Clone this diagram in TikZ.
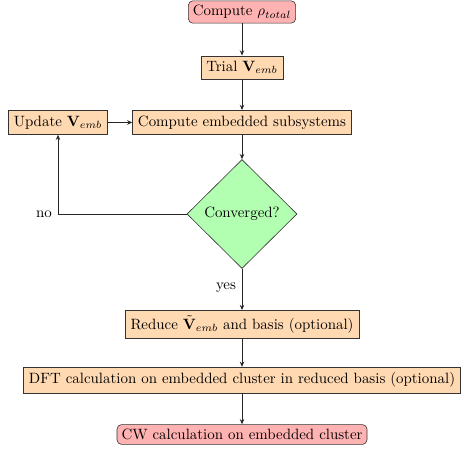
\documentclass[tikz,border=0pt]{standalone}
\usetikzlibrary{shapes.geometric,arrows.meta}
\begin{document}
\begin{tikzpicture}[x=0.67pt,y=-0.67pt,
  procbox/.style={draw=black!80,fill=orange!30,rectangle,inner sep=3.6pt},
  termbox/.style={draw=black!80,fill=red!30,rectangle,rounded corners=3pt,inner sep=3pt},
  decbox/.style={draw=black!80,fill=green!30,diamond,aspect=1,inner sep=0pt,minimum width=73.7pt,minimum height=73pt},
  flow/.style={draw=black!85,line width=0.6pt,-{Stealth[length=3.5pt,width=3pt]}},
  lbl/.style={inner sep=1pt}]
\useasboundingbox (0,0) rectangle (474,462);
\node[termbox] (top) at (242,12) {Compute $\rho_{total}$};
\node[procbox] (trial) at (242,67.5) {Trial $\mathbf{V}_{emb}$};
\node[procbox] (upd) at (58,122.5) {Update $\mathbf{V}_{emb}$};
\node[procbox] (comp) at (242,122.5) {Compute embedded subsystems};
\node[decbox] (conv) at (242,214) {Converged?};
\node[procbox] (red) at (242,324.5) {Reduce $\tilde{\mathbf{V}}_{emb}$ and basis (optional)};
\node[procbox] (dft) at (242,380) {DFT calculation on embedded cluster in reduced basis (optional)};
\node[termbox] (cw) at (242,434.5) {CW calculation on embedded cluster};
\coordinate (corner) at (58,214);
\draw[flow] (top) -- (trial);
\draw[flow] (trial) -- (comp);
\draw[flow] (upd) -- (comp);
\draw[flow] (comp) -- (conv);
\draw[flow] (conv.west) -- (corner) -- (upd.south);
\node[lbl] (no) at (44,214) {no};
\draw[flow] (conv.south) -- (red.north);
\node[lbl] (yes) at (226,288) {yes};
\draw[flow] (red) -- (dft);
\draw[flow] (dft) -- (cw);
\end{tikzpicture}
\end{document}
